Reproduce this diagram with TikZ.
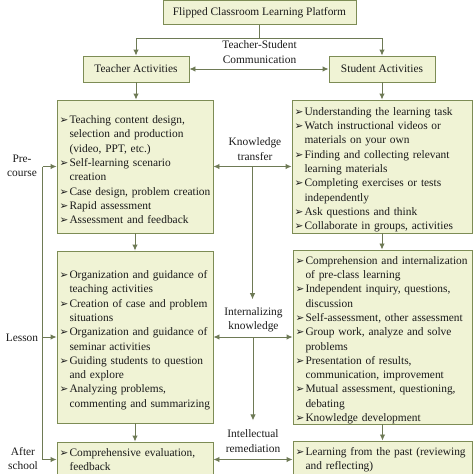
\documentclass[tikz,border=0pt]{standalone}
\usepackage{fontspec}
\setmainfont{Liberation Serif}
\newfontfamily\symfont{DejaVu Sans}
\usepackage{tikz}
\usetikzlibrary{
	arrows.meta,
	calc,
	positioning
}
\definecolor{boxfill}{HTML}{F0F3D5}
\definecolor{boxline}{HTML}{7D8C55}
\definecolor{wire}{HTML}{6E7A55}
\definecolor{ink}{HTML}{1A1A1A}
\tikzset{every path/.append style={line width=0.9pt}}
\tikzset{every path/.append style={>={Latex[length=6pt,width=5.5pt]}}}
\tikzset{
	box/.style={draw=boxline,fill=boxfill,text=ink,inner xsep=2.5pt,inner ysep=0pt,font=\fontsize{11.4}{14.3}\selectfont},
	listbox/.style={box,align=left},
	tag/.style={text=ink,align=center,inner sep=1pt,font=\fontsize{11.4}{14.3}\selectfont},
	wire/.style={draw=wire}
}
\newcommand{\bul}{{\symfont\fontsize{10.5}{10.5}\selectfont ➢}}
\newcommand{\itm}[1]{\par\noindent\hbox to 10pt{\bul\hss}\mbox{#1}}
\newcommand{\cnt}[1]{\par\noindent\hspace*{10pt}\mbox{#1}}

\begin{document}
\begin{tikzpicture}[x=1pt,y=-1pt]
	\useasboundingbox (0,0) rectangle (474,474);
	
	% platform and the two sides
	\node (plat) at (259.5,12.5) [box,minimum width=193,minimum height=24]{Flipped Classroom Learning Platform};
	\node (tact) at (136,69) [box,minimum width=106,minimum height=26]{Teacher Activities};
	\node (sact) at (382,69) [box,minimum width=106,minimum height=26]{Student Activities};
	\node (tsc) at (259.5,52) [tag]{Teacher-Student\\Communication};
	
	\draw[wire] (plat.south) -- ++(0,13.5) coordinate (fork);
	\draw[wire,->] (fork) -| (tact.north);
	\draw[wire,->] (fork) -| (sact.north);
	\draw[wire,<->] (tact) -- (sact);
	
	% pre-course
	\node (tpre) at (135,166.5) [listbox,minimum width=156,minimum height=133,text width=151pt]{%
		\itm{Teaching content design,}
		\cnt{selection and production}
		\cnt{(video, PPT, etc.)}
		\itm{Self-learning scenario}
		\cnt{creation}
		\itm{Case design, problem creation}
		\itm{Rapid assessment}
		\itm{Assessment and feedback}};
	\node (spre) at (382,166.5) [listbox,minimum width=180,minimum height=133,text width=175pt]{%
		\itm{Understanding the learning task}
		\itm{Watch instructional videos or}
		\cnt{materials on your own}
		\itm{Finding and collecting relevant}
		\cnt{learning materials}
		\itm{Completing exercises or tests}
		\cnt{independently}
		\itm{Ask questions and think}
		\itm{Collaborate in groups, activities}};
	\node (ktr) at (255,149) [tag]{Knowledge\\transfer};
	
	% lesson
	\node (tles) at (135,337) [listbox,minimum width=156,minimum height=172,text width=151pt]{%
		\itm{Organization and guidance of}
		\cnt{teaching activities}
		\itm{Creation of case and problem}
		\cnt{situations}
		\itm{Organization and guidance of}
		\cnt{seminar activities}
		\itm{Guiding students to question}
		\cnt{and explore}
		\itm{Analyzing problems,}
		\cnt{commenting and summarizing}};
	\node (sles) at (382.5,337) [listbox,minimum width=179,minimum height=172,text width=174pt]{%
		\itm{Comprehension and internalization}
		\cnt{of pre-class learning}
		\itm{Independent inquiry, questions,}
		\cnt{discussion}
		\itm{Self-assessment, other assessment}
		\itm{Group work, analyze and solve}
		\cnt{problems}
		\itm{Presentation of results,}
		\cnt{communication, improvement}
		\itm{Mutual assessment, questioning,}
		\cnt{debating}
		\itm{Knowledge development}};
	\node (ikn) at (253.5,320) [tag]{Internalizing\\knowledge};
	
	% after school (cut by the lower edge)
	\node (taft) at (135,459.5) [listbox,minimum width=156,minimum height=35,text width=151pt]{%
		\itm{Comprehensive evaluation,}
		\cnt{feedback}\par\vspace{6pt}};
	\node (saft) at (382.5,459.5) [listbox,minimum width=179,minimum height=35,text width=174pt]{%
		\itm{Learning from the past (reviewing}
		\cnt{and reflecting)}\par\vspace{6pt}};
	\node (irm) at (253,441) [tag]{Intellectual\\remediation};
	
	% stage names
	\node (pcs) at (22,166) [tag]{Pre-\\course};
	\node (lsn) at (22,338) [tag]{Lesson};
	\node (asc) at (23,458.5) [tag]{After\\school};
	
	% downward flow
	\draw[wire,->] (tact.south) -- (tact.south |- tpre.north);
	\draw[wire,->] (sact.south) -- (sact.south |- spre.north);
	\draw[wire,->] (tpre.south) -- (tpre.south |- tles.north);
	\draw[wire,->] (spre.south) -- (spre.south |- sles.north);
	\draw[wire,->] (tles.south) -- (tles.south |- taft.north);
	\draw[wire,->] (sles.south) -- (sles.south |- saft.north);
	
	% across
	\draw[wire,<->] (tpre) -- (spre);
	\draw[wire,<->] (tles) -- (sles);
	\draw[wire,<->] (taft) -- (saft);
	\coordinate (kmid) at ($(tpre.east)!0.5!(spre.west)$);
	\coordinate (lmid) at ($(tles.east)!0.5!(sles.west)$);
	\draw[wire,->,shorten >=7pt] (kmid) -- (kmid |- ikn.north);
	\draw[wire,->,shorten >=8pt] (lmid) -- (lmid |- irm.north);
	
	% left rail
	\coordinate (rtop) at ($(tpre.west)+(-14,0)$);
	\coordinate (rbot) at ($(taft.west)+(-14,0)$);
	\draw[wire] (rtop) -- (rbot);
	\draw[wire,->] (rtop) -- (tpre.west);
	\draw[wire,->] (rtop |- tles.west) -- (tles.west);
	\draw[wire,->] (rbot) -- (taft.west);
\end{tikzpicture}
\end{document}
